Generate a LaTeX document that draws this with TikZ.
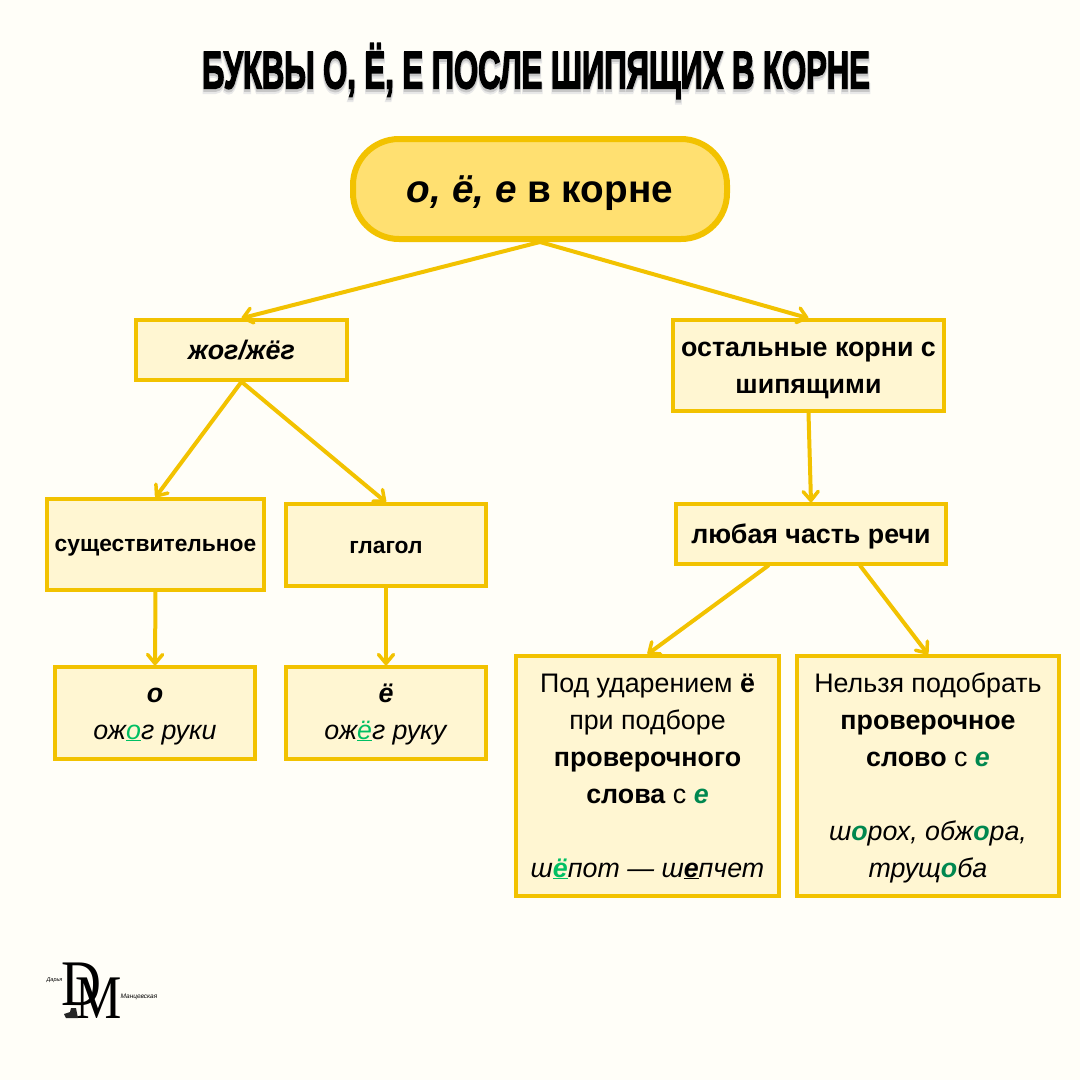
\documentclass[tikz,border=0pt]{standalone}
\usepackage{fontspec}
\setmainfont{Liberation Sans}
\newfontfamily\serifdm{Liberation Serif}
\newfontfamily\ttlmain[BoldFeatures={FakeBold=3}]{Liberation Sans}
\newfontfamily\ttlsoft[BoldFeatures={FakeBold=6}]{Liberation Sans}
\newfontfamily\ttlwide[BoldFeatures={FakeBold=10}]{Liberation Sans}
\usetikzlibrary{arrows.meta,calc}
\definecolor{bgc}{HTML}{FFFEF8}
\definecolor{edgec}{HTML}{F2C200}
\definecolor{boxc}{HTML}{FFF6D2}
\definecolor{pillc}{HTML}{FFE071}
\definecolor{brightg}{HTML}{00BF63}
\definecolor{darkg}{HTML}{00884F}
\newcommand{\hl}[1]{\textcolor{brightg}{\underline{#1}}}
\newcommand{\dg}[1]{\textcolor{darkg}{#1}}
\newcommand{\ttl}[1]{\scalebox{0.585}[1]{\fontsize{53}{53}#1\selectfont\bfseries БУКВЫ О, Ё, Е ПОСЛЕ ШИПЯЩИХ В КОРНЕ}}
\newcommand{\topr}[1]{\rule{0pt}{#1pt}}
\newcommand{\botr}{\rule[-10pt]{0pt}{10pt}}
\tikzset{
  x=1pt,y=-1pt,
  box/.style={draw=edgec,fill=boxc,line width=4pt,inner sep=0pt,align=center,anchor=center,text=black},
  body/.style={font=\fontsize{26.8}{37}\selectfont},
  small/.style={font=\fontsize{22.8}{30}\selectfont\bfseries},
  conn/.style={draw=edgec,line width=4pt,line cap=round,-{Straight Barb[length=9pt,width=15pt,line width=3.5pt,round]}},
  logotext/.style={inner sep=0pt,anchor=center}
}
\begin{document}
\begin{tikzpicture}
\useasboundingbox (0,0) rectangle (1080,1080);
\fill[bgc] (0,0) rectangle (1080,1080);
% title with its soft shadow
\node[logotext,text=black!9] (shadowwide) at (536,74) {\ttl{\ttlwide}};
\node[logotext,text=black!22] (shadowsoft) at (536,73) {\ttl{\ttlsoft}};
\node[logotext,text=black] (title) at (536,71) {\ttl{\ttlmain}};
% root
\node[draw=edgec,fill=pillc,line width=6pt,rounded corners=46pt,minimum width=374pt,minimum height=100pt,inner sep=0pt,anchor=center,
  text height=26.6pt,text depth=0pt,font=\fontsize{38.7}{46}\selectfont\bfseries] (root) at (540,189) {\textit{о, ё, е} в корне};
% level 1
\node[box,body,minimum width=210.5pt,minimum height=59.5pt] (zhog) at (241.5,350) {\textbf{\textit{жог/жёг}}};
\node[box,body,minimum width=270.5pt,minimum height=90.5pt] (rest) at (808.5,365.5) {\topr{28}\textbf{остальные корни с}\\\textbf{шипящими}\botr};
% level 2
\node[box,small,text height=14.5pt,text depth=0pt,minimum width=216.5pt,minimum height=90.5pt] (noun) at (155.5,544.5) {существительное};
\node[box,small,text height=16pt,text depth=0pt,minimum width=199.5pt,minimum height=81.5pt] (verb) at (386,545) {глагол};
\node[box,body,text height=18pt,text depth=0pt,minimum width=269.5pt,minimum height=59.5pt] (any) at (811,534) {\textbf{любая часть речи}};
% level 3
\node[box,body,minimum width=199.5pt,minimum height=91.5pt] (o) at (155,713) {\topr{25}\textbf{\textit{о}}\\\textit{ож\hl{о}г руки}\botr};
\node[box,body,minimum width=199.5pt,minimum height=91.5pt] (yo) at (386,713) {\topr{25}\textbf{\textit{ё}}\\\textit{ож\hl{ё}г руку}\botr};
\node[box,body,minimum width=262.5pt,minimum height=239.5pt] (stress) at (647.5,776) {\topr{27}Под ударением \textbf{ё}\\при подборе\\\textbf{проверочного}\\\textbf{слова} с \dg{\textbf{\textit{е}}}\\\mbox{}\\\textit{ш\hl{\textbf{ё}}пот — ш\underline{\textbf{е}}пчет}\botr};
\node[box,body,minimum width=261.5pt,minimum height=239.5pt] (nocheck) at (928,776) {\topr{27}Нельзя подобрать\\\textbf{проверочное}\\\textbf{слово} с \dg{\textbf{\textit{е}}}\\\mbox{}\\\textit{ш\dg{\textbf{о}}рох, обж\dg{\textbf{о}}ра,}\\\textit{трущ\dg{\textbf{о}}ба}\botr};
% connectors
\coordinate (anyl) at ($(any.south west)!0.343!(any.south east)$);
\coordinate (anyr) at ($(any.south west)!0.68!(any.south east)$);
\draw[conn] (root.south) -- (zhog.north);
\draw[conn] (root.south) -- (rest.north);
\draw[conn] (zhog.south) -- (noun.north);
\draw[conn] (zhog.south) -- (verb.north);
\draw[conn] (rest.south) -- (any.north);
\draw[conn] (noun.south) -- (o.north);
\draw[conn] (verb.south) -- (yo.north);
\draw[conn] (anyl) -- (stress.north);
\draw[conn] (anyr) -- (nocheck.north);
% logo
\node[logotext,font=\fontsize{65}{65}\selectfont\serifdm] (logod) at (81,984) {\scalebox{0.85}[1]{D}};
\node[logotext,font=\fontsize{62}{62}\selectfont\serifdm] (logom) at (99,998) {\scalebox{0.84}[1]{M}};
\node[logotext,font=\fontsize{5.5}{6}\selectfont\itshape] (logoa) at (54.5,980) {Дарья};
\node[logotext,font=\fontsize{6.5}{7}\selectfont\itshape] (logob) at (139,997) {Манцевская};
\fill[black!85] (64,1014) -- (70,1012) -- (71,1008) -- (76,1008) -- (78,1018) -- (66,1018) -- cycle;
\end{tikzpicture}
\end{document}
